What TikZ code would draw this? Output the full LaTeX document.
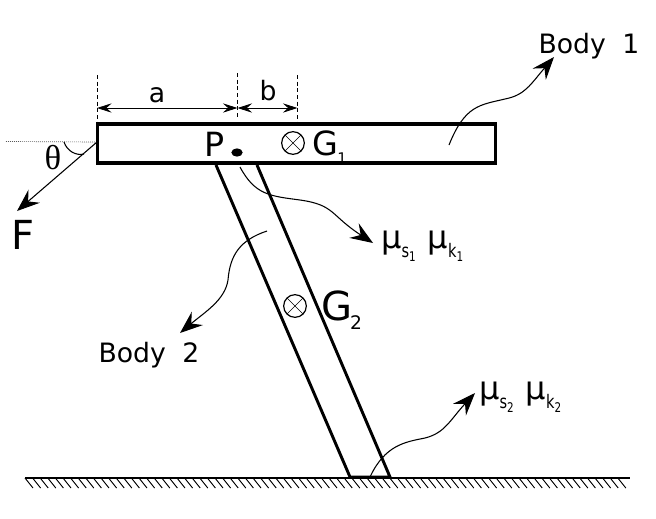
\documentclass[tikz,border=0pt]{standalone}
\usepackage{fontspec}
\setmainfont{DejaVu Sans}
\newfontfamily\thetafont{Liberation Serif}
\usetikzlibrary{arrows.meta,shapes.geometric}
\tikzset{
  barline/.style={line width=2.2pt},
  dimline/.style={densely dashed,line width=0.5pt},
  dimarrow/.style={line width=0.6pt,{Stealth[length=11pt,width=7pt,inset=4pt]}-{Stealth[length=11pt,width=7pt,inset=4pt]}},
  leader/.style={line width=0.8pt,-{Stealth[length=17pt,width=13pt,inset=6pt]}},
  lbl/.style={inner sep=0pt,font=\fontsize{20}{20}\selectfont},
  biglbl/.style={inner sep=0pt,font=\fontsize{25}{25}\selectfont},
  sublbl/.style={inner sep=0pt,font=\fontsize{11}{11}\selectfont},
  centermark/.style={circle,draw,line width=0.9pt,minimum size=17pt,inner sep=0pt,path picture={
    \draw[line width=0.5pt] (path picture bounding box.south west) -- (path picture bounding box.north east);
    \draw[line width=0.5pt] (path picture bounding box.north west) -- (path picture bounding box.south east);}},
}
\newcommand{\frictext}[2]{\fontsize{24}{24}\selectfont μ\raisebox{-7pt}{\scalebox{0.78}[1]{\fontsize{14}{14}\selectfont #1\raisebox{-3pt}{\fontsize{10}{10}\selectfont #2}}}}
\begin{document}
\begin{tikzpicture}[x=0.75pt,y=-0.75pt]
\useasboundingbox (0,0) rectangle (656,518);

% ground
\coordinate (groundL) at (25,478);
\coordinate (groundR) at (630,478);
\draw[line width=1pt] (groundL) -- (groundR);
\foreach \x in {25,32.6,...,625} {
  \draw[line width=0.7pt] (\x,478) -- (\x+8,488);
}

% body 2
\coordinate (legTL) at (216,165);
\coordinate (legTR) at (257,165);
\coordinate (legBL) at (350,477);
\coordinate (legBR) at (390,477);
\draw[barline] (legTL) -- (legBL) -- (legBR) -- (legTR);

% body 1
\coordinate (barTL) at (97.5,124);
\coordinate (barBR) at (495.5,163);
\draw[barline,line width=2.7pt] (barTL) rectangle (barBR);

% dimensions
\coordinate (dimA) at (97,108);
\coordinate (dimP) at (237.5,108);
\coordinate (dimB) at (297.5,108);
\draw[dimline] (97,75) -- (97,122);
\draw[dimline] (237.5,73) -- (237.5,119);
\draw[dimline] (297.5,75) -- (297.5,122);
\draw[dimarrow] (dimA) -- (dimP);
\draw[dimarrow] (dimP) -- (dimB);
\node[lbl] (lblA) at (157,95) {a};
\node[lbl] (lblB) at (268,91) {b};

% force
\coordinate (forceO) at (97,142);
\coordinate (forceE) at (17,211);
\draw[densely dotted,line width=0.5pt] (6,141.5) -- (forceO);
\draw[line width=0.8pt,-{Stealth[length=17pt,width=13pt,inset=6pt]}] (forceO) -- (forceE);
\draw[line width=0.8pt] (64,142) .. controls (67,151) and (76,156) .. (84,154);
\node[inner sep=0pt,font=\thetafont\fontsize{26}{26}\selectfont] (lblTheta) at (53,158) {θ};
\node[inner sep=0pt,font=\fontsize{30}{30}\selectfont] (lblF) at (23,235) {F};

% points
\node[biglbl] (lblP) at (215,144) {P};
\node[ellipse,fill,minimum width=8.5pt,minimum height=6.2pt,inner sep=0pt] (ptP) at (237,152.5) {};
\node[centermark] (markG1) at (293,143) {};
\node[biglbl] (lblG1) at (325,143) {G};
\node[sublbl] (subG1) at (342,158) {1};
\node[centermark] (markG2) at (295,306) {};
\node[inner sep=0pt,font=\fontsize{30}{30}\selectfont] (lblG2) at (337,306) {G};
\node[inner sep=0pt,font=\fontsize{14}{14}\selectfont] (subG2) at (356,323) {2};

% labels
\node[lbl] (lblBody1) at (589,46) {Body\hspace{0.3em} 1};
\node[lbl] (lblBody2) at (149,355) {Body\hspace{0.3em} 2};
\node[inner sep=0pt,anchor=west] (lblMu1) at (381,246) {\frictext{s}{1}\hspace{9pt}\frictext{k}{1}};
\node[inner sep=0pt,anchor=west] (lblMu2) at (479,397) {\frictext{s}{2}\hspace{9pt}\frictext{k}{2}};

% leaders
\coordinate (startBody1) at (449,145);
\coordinate (endBody1) at (554,57);
\coordinate (startBody2) at (267,231);
\coordinate (endBody2) at (180,333);
\coordinate (startMu1) at (240,167);
\coordinate (endMu1) at (373,243);
\coordinate (startMu2) at (370,477);
\coordinate (endMu2) at (475,393);
\draw[leader] (startBody1) .. controls (465,105) and (480,105) .. (505,99) .. controls (525,95) and (530,85) .. (endBody1);
\draw[leader] (startBody2) .. controls (240,240) and (230,255) .. (228,280) .. controls (225,300) and (205,312) .. (endBody2);
\draw[leader] (startMu1) .. controls (255,195) and (270,196) .. (300,200) .. controls (335,205) and (330,215) .. (endMu1);
\draw[leader] (startMu2) .. controls (385,445) and (405,442) .. (425,438) .. controls (445,433) and (450,420) .. (endMu2);
\end{tikzpicture}
\end{document}
